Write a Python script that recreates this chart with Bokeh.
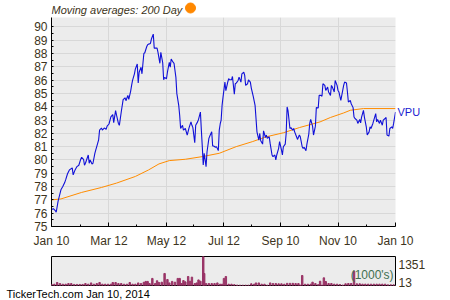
from bokeh.plotting import figure
from bokeh.layouts import column
from bokeh.models import Range1d, FixedTicker, LinearAxis, CustomJSTickFormatter, Title
from bokeh.core.properties import value
from bokeh.embed import file_html
from bokeh.resources import INLINE

# ---- data (x = calendar days after Jan 10, 2013) ----
tick_days = [0, 61, 122, 183, 243, 304, 365]
tick_labels = ["Jan 10", "Mar 12", "May 12", "Jul 12", "Sep 10", "Nov 10", "Jan 10"]
minor_days = [31, 90, 151, 212, 273, 334]
y_ticks = list(range(75, 91))

price_days = [0, 2, 4, 5, 7, 10, 12, 14, 15, 17, 19, 22, 23, 25, 27, 29, 31, 32, 34, 35,
              36, 39, 40, 41, 43, 44, 46, 47, 48, 50, 51, 53, 54, 56, 58, 59, 61, 63, 65, 66,
              68, 69, 71, 72, 74, 76, 78, 79, 81, 82, 84, 85, 86, 88, 89, 91, 92, 93, 95, 96,
              98, 99, 101, 102, 103, 105, 106, 108, 109, 110, 112, 113, 115, 116, 118, 119, 120, 122, 123, 125,
              126, 127, 129, 130, 132, 133, 135, 136, 137, 139, 140, 142, 144, 146, 148, 149, 150, 152, 153, 155,
              156, 158, 159, 160, 161, 162, 163, 164, 165, 167, 168, 170, 171, 172, 174, 175, 177, 178, 179, 180,
              181, 182, 184, 185, 187, 188, 189, 191, 192, 194, 195, 196, 198, 199, 201, 202, 204, 205, 206, 208,
              209, 211, 212, 214, 216, 217, 218, 220, 221, 222, 224, 225, 227, 228, 229, 231, 232, 234, 235, 237,
              238, 239, 241, 242, 244, 245, 246, 248, 249, 250, 251, 253, 254, 256, 257, 258, 260, 261, 263, 264,
              266, 267, 268, 270, 271, 273, 274, 275, 277, 278, 280, 281, 283, 284, 286, 287, 288, 290, 291, 293,
              294, 296, 297, 298, 300, 301, 303, 304, 305, 307, 308, 310, 311, 313, 314, 315, 317, 318, 320, 321,
              322, 324, 325, 327, 328, 329, 331, 332, 334, 335, 337, 338, 339, 341, 342, 344, 345, 346, 348, 349,
              351, 352, 354, 355, 356, 358, 359, 361, 362, 363, 365]
price = [76.27, 76.34, 76.2, 76.07, 76.9, 77.76, 78.0, 78.3, 78.5, 78.96, 79.25, 79.4, 78.88, 79.25, 79.5, 79.6, 80.05, 80.2, 80.05, 79.6,
         79.75, 80.37, 79.75, 80.0, 79.7, 79.75, 80.5, 80.75, 81.0, 81.5, 82.24, 82.4, 82.24, 82.4, 82.3, 82.54, 82.7, 83.23, 83.4, 82.8,
         83.7, 83.36, 82.74, 82.6, 83.6, 84.53, 84.67, 84.45, 84.85, 84.55, 85.17, 85.6, 85.97, 86.47, 86.84, 87.21, 85.78, 86.59, 86.96, 86.47,
         88.0, 88.05, 88.5, 88.66, 88.7, 88.75, 89.08, 89.45, 88.4, 88.4, 88.4, 88.08, 87.26, 88.08, 87.3, 86.02, 86.2, 86.1, 86.59, 87.34,
         86.97, 87.58, 87.34, 87.26, 86.2, 84.98, 84.1, 83.36, 82.36, 82.6, 82.24, 82.36, 81.87, 82.43, 82.86, 82.6, 82.43, 81.29, 82.6, 82.86,
         83.04, 83.6, 82.24, 81.0, 79.63, 80.5, 80.0, 79.5, 80.6, 81.62, 81.8, 82.11, 81.05, 81.05, 80.95, 81.0, 80.7, 82.24, 82.7, 83.0,
         84.1, 84.72, 85.85, 85.2, 85.85, 86.1, 86.02, 86.02, 86.27, 84.93, 85.72, 85.77, 85.97, 86.22, 85.85, 86.47, 86.6, 86.35, 85.6, 85.72,
         86.02, 85.85, 85.4, 84.8, 84.1, 83.11, 82.11, 81.49, 81.99, 81.44, 81.19, 82.19, 81.69, 81.87, 81.62, 81.74, 81.24, 80.37, 80.25, 80.37,
         80.0, 80.37, 80.87, 81.37, 80.75, 80.37, 80.99, 81.19, 81.99, 83.98, 83.68, 82.36, 82.43, 82.24, 82.36, 82.11, 81.74, 81.54, 81.87, 81.74,
         80.99, 80.87, 80.95, 80.7, 81.19, 81.94, 82.74, 83.04, 82.54, 81.87, 82.54, 83.93, 83.9, 84.85, 84.85, 84.78, 85.72, 85.6, 85.22, 85.47,
         85.1, 84.85, 85.6, 85.47, 85.1, 85.97, 85.6, 85.22, 85.1, 84.48, 84.85, 85.6, 85.85, 85.78, 85.1, 84.35, 84.48, 84.22, 83.93, 83.22,
         83.11, 82.99, 82.74, 83.04, 82.78, 83.22, 83.72, 83.22, 82.49, 81.87, 82.11, 82.49, 82.36, 82.74, 82.99, 83.48, 82.86, 83.04, 82.74, 82.99,
         82.61, 82.99, 83.11, 83.19, 81.87, 81.79, 82.36, 82.49, 82.36, 82.74, 83.6]

ma_days = [0, 10, 32, 53, 69, 89, 103, 114, 125, 142, 160, 178, 196, 213, 228, 246, 263, 285, 296, 310, 317, 331, 365]
ma200 = [77.0, 77.07, 77.56, 77.93, 78.26, 78.76, 79.25, 79.7, 79.95, 80.05, 80.25, 80.5, 81.0, 81.37, 81.74, 82.04,
         82.43, 82.86, 83.19, 83.53, 83.73, 83.86, 83.86]

vol_days = [0, 3, 6, 9, 12, 15, 18, 21, 24, 27, 30, 33, 36, 39, 42, 45, 48, 51, 54, 57,
            60, 63, 65, 68, 71, 74, 77, 80, 83, 86, 89, 92, 95, 98, 100, 102, 104, 107, 110, 112,
            114, 117, 120, 123, 125, 128, 131, 134, 136, 138, 140, 142, 145, 147, 149, 152, 154, 156, 158, 161,
            162, 164, 167, 170, 173, 176, 179, 181, 183, 185, 188, 191, 194, 197, 200, 203, 206, 209, 212, 215,
            217, 220, 223, 226, 229, 232, 235, 238, 241, 244, 247, 250, 253, 256, 259, 262, 264, 266, 269, 272,
            275, 277, 280, 283, 285, 287, 289, 291, 294, 297, 300, 303, 306, 309, 312, 315, 318, 321, 324, 327,
            330, 333, 336, 339, 342, 345, 348, 351, 354, 357, 360, 363]
volume = [60, 60, 140, 90, 60, 60, 90, 90, 50, 50, 50, 50, 90, 60, 120, 60, 90, 140, 60, 60,
          60, 60, 140, 140, 90, 90, 60, 60, 140, 60, 60, 120, 90, 150, 190, 190, 90, 330, 90, 220,
          140, 155, 560, 280, 120, 190, 155, 330, 330, 90, 230, 170, 420, 200, 390, 90, 120, 260, 200, 1351,
          560, 90, 90, 90, 90, 120, 60, 60, 330, 420, 60, 60, 40, 20, 15, 15, 15, 15, 80, 60,
          120, 120, 60, 60, 15, 120, 90, 90, 78, 78, 60, 100, 100, 100, 90, 90, 15, 466, 60, 60,
          60, 155, 90, 40, 200, 15, 357, 186, 93, 93, 62, 62, 47, 20, 78, 93, 93, 668, 78, 78,
          62, 62, 62, 62, 62, 62, 62, 62, 62, 31, 31, 31]
vol_labels = [13, 1351]

title_text = "Moving averages: 200 Day"
ticker_name = "VPU"
footer_text = "TickerTech.com  Jan 10, 2014"
unit_text = "(1000's)"

TXT = "#3d3420"
FONT = "Liberation Sans"
BL, BR = 51, 55   # left / right borders shared by all panels

# ---- header: caption with the legend dot (pixel coordinates of the header strip) ----
hdr = figure(width=450, height=17, x_range=Range1d(BL, 450 - BR), y_range=Range1d(17, 0),
             output_backend="svg", toolbar_location=None,
             x_axis_location=None, y_axis_location=None,
             min_border_left=BL, min_border_right=BR, min_border_top=0, min_border_bottom=0)
hdr.outline_line_color = None
hdr.grid.visible = False
hdr.text(x=[BL], y=[9], text=[title_text], text_font=value(FONT), text_font_size="11px",
         text_font_style="italic", text_color=TXT, text_baseline="middle")
hdr.scatter(x=[190], y=[7.5], size=10, color="#ff8800", marker="circle")

# ---- main price chart ----
p = figure(width=450, height=233, x_range=Range1d(0, 365), y_range=Range1d(75, 90.7),
           output_backend="svg", toolbar_location=None,
           min_border_left=BL, min_border_right=BR, min_border_top=0, min_border_bottom=23)
p.background_fill_color = "#ececec"
p.outline_line_color = None

p.line(ma_days, ma200, color="#ff8c00", line_width=1)
p.line(price_days, price, color="#1010d8", line_width=1.1)

p.xaxis.ticker = FixedTicker(ticks=tick_days, minor_ticks=minor_days)
p.xaxis.major_label_overrides = {d: l for d, l in zip(tick_days, tick_labels)}
p.yaxis.ticker = FixedTicker(ticks=y_ticks, minor_ticks=[t + 0.5 for t in y_ticks[:-1]])
for ax in (p.xaxis, p.yaxis):
    ax.axis_line_color = "black"
    ax.major_tick_line_color = "black"
    ax.minor_tick_line_color = "black"
    ax.major_tick_out = 0
    ax.minor_tick_out = 0
    ax.major_label_text_color = TXT
    ax.major_label_text_font = FONT
    ax.major_label_text_font_size = "12px"
p.xaxis.major_tick_in = 4
p.xaxis.minor_tick_in = 2
p.yaxis.major_tick_in = 2
p.yaxis.minor_tick_in = 2
p.xaxis.major_label_standoff = 7
p.yaxis.major_label_standoff = 4
p.grid.grid_line_color = "#d8d8d8"
p.grid.grid_line_width = 1

# symbol name at the last price, on a right-hand axis
rax = LinearAxis(ticker=FixedTicker(ticks=[price[-1]]),
                 formatter=CustomJSTickFormatter(code="return '%s'" % ticker_name))
rax.axis_line_color = None
rax.major_tick_line_color = None
rax.minor_tick_line_color = None
rax.major_tick_in = 0
rax.major_tick_out = 0
rax.minor_tick_in = 0
rax.minor_tick_out = 0
rax.major_label_standoff = 2
rax.major_label_text_color = "#1a1ad0"
rax.major_label_text_font = FONT
rax.major_label_text_font_size = "11px"
p.add_layout(rax, "right")

# ---- volume chart with footer ----
v = figure(width=450, height=50, x_range=p.x_range, y_range=Range1d(0, 1351),
           output_backend="svg", toolbar_location=None,
           x_axis_location=None, y_axis_location=None,
           min_border_left=BL, min_border_right=BR, min_border_top=6, min_border_bottom=15)
v.background_fill_color = "#ececec"
v.outline_line_color = "black"
v.outline_line_width = 1
v.grid.visible = False
v.vbar(x=vol_days, top=volume, width=1.5, color="#993366")
v.extra_y_ranges = {"lab": Range1d(-210, 1946)}
vax = LinearAxis(y_range_name="lab", ticker=FixedTicker(ticks=vol_labels))
vax.axis_line_color = None
vax.major_tick_line_color = None
vax.minor_tick_line_color = None
vax.major_tick_in = 0
vax.major_tick_out = 0
vax.minor_tick_in = 0
vax.minor_tick_out = 0
vax.major_label_text_color = TXT
vax.major_label_text_font = FONT
vax.major_label_text_font_size = "12px"
vax.major_label_standoff = 3
v.add_layout(vax, "right")
v.text(x=[363], y=[100], text=[unit_text], text_font=value(FONT), text_font_size="12px",
       text_color="#3f7050", text_baseline="bottom", text_align="right", y_offset=-1)
v.add_layout(Title(text=footer_text, align="left", offset=-45, standoff=0,
                   text_font=FONT, text_font_size="11px", text_font_style="normal",
                   text_color="black"), "below")

layout = column(hdr, p, v, spacing=0)
open("out.html", "w").write(file_html(layout, INLINE))
